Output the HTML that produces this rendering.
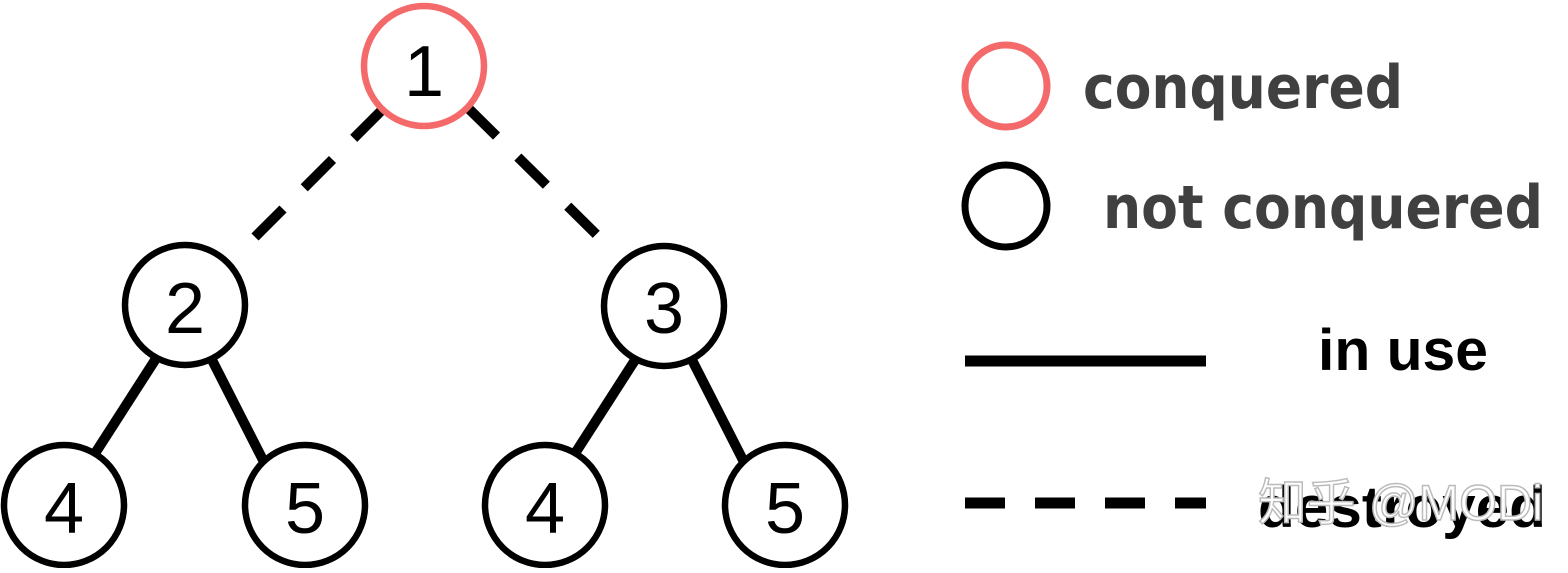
<!DOCTYPE html>
<html><head><style>html,body{margin:0;padding:0;background:#fff;}</style></head>
<body>
<svg width="1568" height="568" viewBox="0 0 1568 568" xmlns="http://www.w3.org/2000/svg">
<g stroke="#000" stroke-width="10" fill="none">
<line x1="382" y1="110" x2="255" y2="237" stroke-dasharray="40,30"/>
<line x1="468" y1="108" x2="598" y2="236" stroke-dasharray="40,30"/>
<line x1="157" y1="357" x2="94" y2="455"/>
<line x1="211" y1="358" x2="265" y2="464"/>
<line x1="637" y1="357" x2="574" y2="455"/>
<line x1="691" y1="358" x2="745" y2="464"/>
</g>
<g fill="#fff" stroke="#000" stroke-width="6.5">
<circle cx="424" cy="66" r="60" stroke="#f46a6a"/>
<circle cx="185" cy="305" r="60"/>
<circle cx="664" cy="306" r="60"/>
<circle cx="64" cy="505" r="60"/>
<circle cx="305" cy="505" r="60"/>
<circle cx="545" cy="505" r="60"/>
<circle cx="785" cy="505" r="60"/>
</g>
<g font-family="Liberation Sans, sans-serif" font-size="72" text-anchor="middle" fill="#000">
<text x="424" y="96">1</text>
<text x="185" y="333">2</text>
<text x="664" y="333">3</text>
<text x="64" y="533">4</text>
<text x="305" y="533">5</text>
<text x="545" y="533">4</text>
<text x="785" y="533">5</text>
</g>
<circle cx="1006" cy="86" r="41" fill="none" stroke="#f46a6a" stroke-width="7"/>
<circle cx="1006" cy="206" r="41" fill="none" stroke="#000" stroke-width="7"/>
<line x1="965" y1="361" x2="1206" y2="361" stroke="#000" stroke-width="11"/>
<line x1="965" y1="503" x2="1206" y2="503" stroke="#000" stroke-width="11" stroke-dasharray="40,30"/>
<g font-family="DejaVu Sans, Liberation Sans, sans-serif" font-weight="bold" fill="#404040" font-size="60">
<text x="1083" y="108" textLength="320" lengthAdjust="spacingAndGlyphs">conquered</text>
<text x="1103" y="228" textLength="440" lengthAdjust="spacingAndGlyphs">not conquered</text>
</g>
<g font-family="Liberation Sans, sans-serif" font-weight="bold" fill="#000" font-size="58">
<text x="1318" y="370" textLength="170" lengthAdjust="spacingAndGlyphs">in use</text>
<text x="1258" y="527" textLength="288" lengthAdjust="spacingAndGlyphs">destroyed</text>
</g>
<text x="1258" y="520" font-family="Liberation Sans, Noto Sans CJK SC, sans-serif" font-size="50" fill="#fff" stroke="#bbb" stroke-width="1.5" textLength="285" lengthAdjust="spacingAndGlyphs">知乎 @MODi</text>
</svg>
</body></html>
